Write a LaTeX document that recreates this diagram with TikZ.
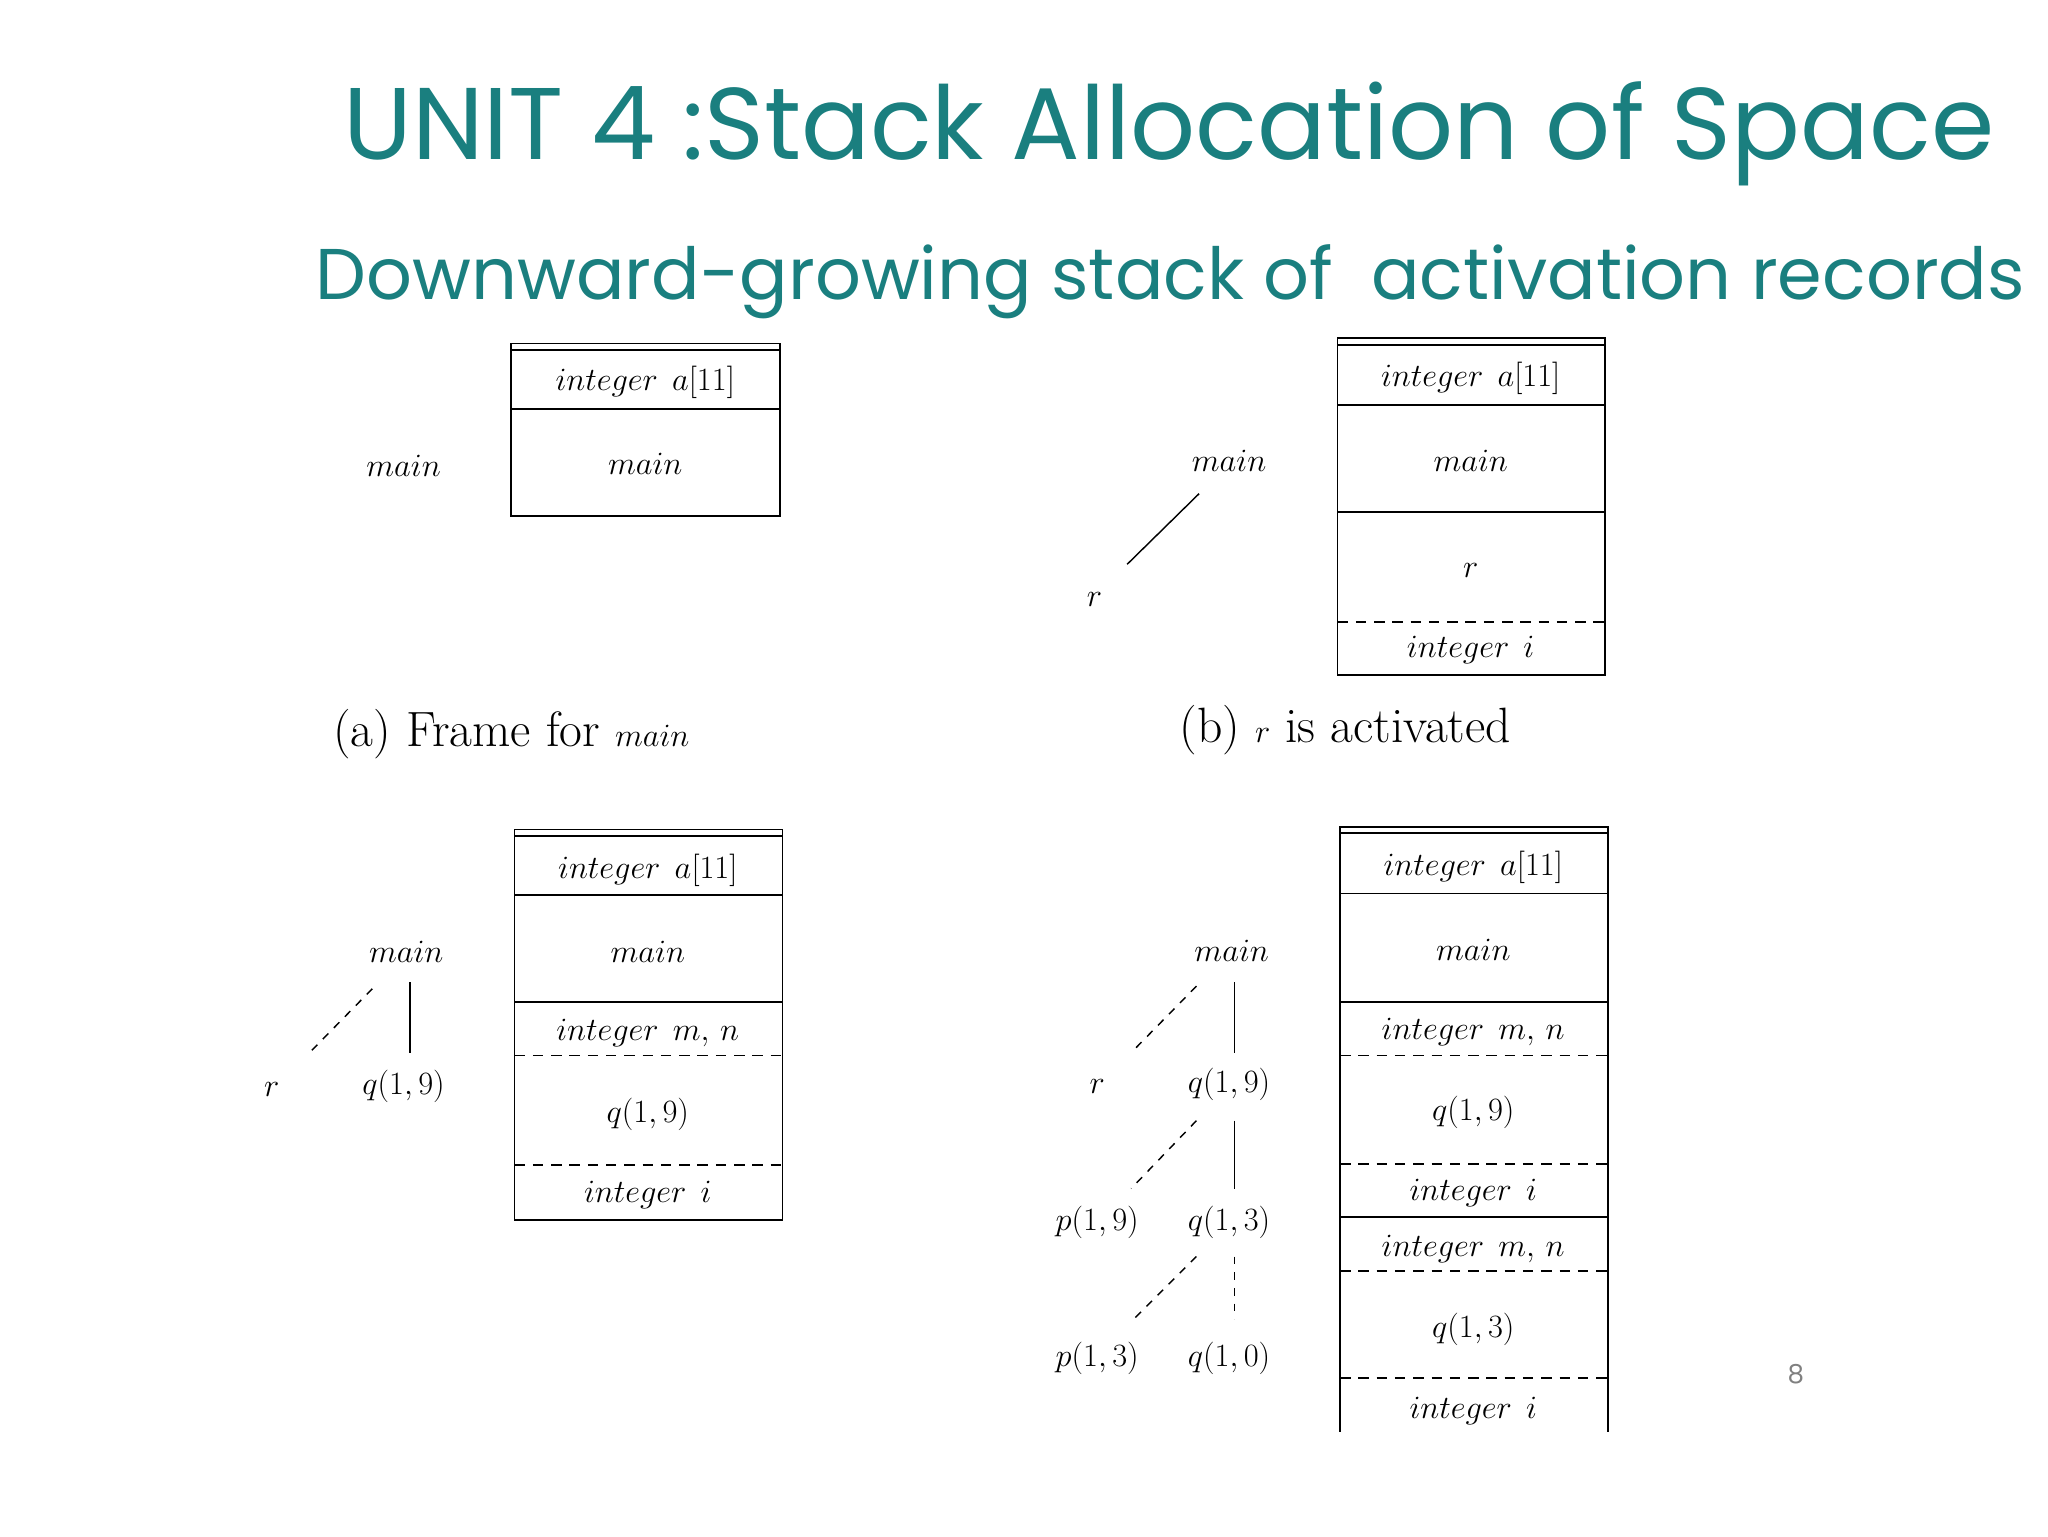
\documentclass[tikz,border=0pt]{standalone}
\usepackage{fontspec}
\newfontfamily\pop{Poppins}
\definecolor{teal1}{HTML}{1A7F7F}
\begin{document}
\begin{tikzpicture}[x=1pt,y=-1pt,
  lbl/.style={font=\fontsize{36}{40}\selectfont, inner sep=0pt},
  tlb/.style={font=\fontsize{38}{42}\selectfont, inner sep=0pt},
  fr/.style={draw, line width=1.3pt},
  dl/.style={draw, line width=1.3pt, dash pattern=on 8pt off 6pt},
  tl/.style={line width=1.1pt},
  td/.style={line width=1.1pt, dash pattern=on 6pt off 6pt}]
\useasboundingbox (0,0) rectangle (1568,1176);
\node[text=teal1, font=\pop\fontsize{78}{88}\selectfont, anchor=base] (title) at (895,122) {UNIT 4 :Stack Allocation of Space};
\node[text=teal1, font=\pop\fontsize{55}{60}\selectfont, anchor=base] (sub) at (896,229) {Downward-growing stack of\ \ activation records};
\node[text=gray, font=\pop\fontsize{20}{24}\selectfont] (pg) at (1375,1052) {8};
% (a)
\draw[fr] (391,263) rectangle (597,395); \draw[fr] (391,268)--(597,268); \draw[fr] (391,313)--(597,313);
\node[lbl] (a1) at (494,293) {$integer\ a[11]$};
\node[lbl] (a2) at (494,355) {$main$};
\node[tlb] (am) at (309,357) {$main$};
\node[tlb, anchor=west] (ac) at (255,562) {(a) Frame for $main$};
% (b)
\draw[fr] (1024,259) rectangle (1229,517); \draw[fr] (1024,264)--(1229,264); \draw[fr] (1024,310)--(1229,310); \draw[fr] (1024,392)--(1229,392);
\draw[dl] (1024,476)--(1229,476);
\node[lbl] (b1) at (1126,290) {$integer\ a[11]$};
\node[lbl] (b2) at (1126,353) {$main$};
\node[lbl] (b3) at (1126,437) {$r$};
\node[lbl] (b4) at (1126,498) {$integer\ i$};
\node[tlb] (bm) at (941,353) {$main$};
\node[tlb] (br) at (838,459) {$r$};
\draw[tl] (918,378)--(863,432);
\node[tlb, anchor=west] (bc) at (903,559) {(b) $r$ is activated};
% (c)
\draw[fr] (394,635) rectangle (599,934); \draw[fr] (394,640)--(599,640); \draw[fr] (394,685)--(599,685); \draw[fr] (394,767)--(599,767);
\draw[dl] (394,808)--(599,808); \draw[dl] (394,892)--(599,892);
\node[lbl] (c1) at (496,666) {$integer\ a[11]$};
\node[lbl] (c2) at (496,729) {$main$};
\node[lbl] (c3) at (496,791) {$integer\ m,\,n$};
\node[lbl] (c4) at (496,853) {$q(1,9)$};
\node[lbl] (c5) at (496,915) {$integer\ i$};
\node[tlb] (cm) at (311,729) {$main$};
\node[tlb] (cr) at (208,834) {$r$};
\node[tlb] (cq) at (309,832) {$q(1,9)$};
\draw[td] (285,757)--(235,808); \draw[tl] (314,752)--(314,806);
% (d)
\draw[fr] (1026,1096)--(1026,633)--(1231,633)--(1231,1096);
\foreach \y in {638,684,767,932} \draw[fr] (1026,\y)--(1231,\y);
\foreach \y in {808,891,973,1055} \draw[dl] (1026,\y)--(1231,\y);
\node[lbl] (d1) at (1128,664) {$integer\ a[11]$};
\node[lbl] (d2) at (1128,727) {$main$};
\node[lbl] (d3) at (1128,790) {$integer\ m,\,n$};
\node[lbl] (d4) at (1128,852) {$q(1,9)$};
\node[lbl] (d5) at (1128,913) {$integer\ i$};
\node[lbl] (d6) at (1128,956) {$integer\ m,\,n$};
\node[lbl] (d7) at (1128,1018) {$q(1,3)$};
\node[lbl] (d8) at (1128,1080) {$integer\ i$};
\node[tlb] (dm) at (943,728) {$main$};
\node[tlb] (dr) at (840,832) {$r$};
\node[tlb] (dq1) at (941,830) {$q(1,9)$};
\node[tlb] (dp1) at (840,936) {$p(1,9)$};
\node[tlb] (dq2) at (941,936) {$q(1,3)$};
\node[tlb] (dp2) at (840,1040) {$p(1,3)$};
\node[tlb] (dq3) at (941,1040) {$q(1,0)$};
\draw[td] (916,755)--(866,806); \draw[tl] (945,752)--(945,806);
\draw[td] (916,858)--(866,910); \draw[tl] (945,858)--(945,910);
\draw[td] (916,962)--(866,1012); \draw[td] (945,962)--(945,1010);
\end{tikzpicture}
\end{document}
